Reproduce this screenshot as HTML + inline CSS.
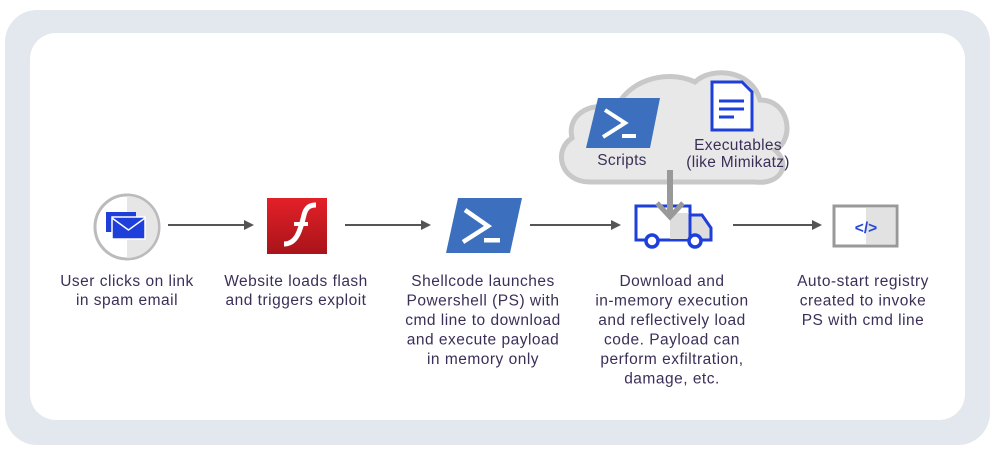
<!DOCTYPE html>
<html><head><meta charset="utf-8"><style>
html,body{margin:0;padding:0;background:#fff;}
svg{display:block;}
text{font-family:"Liberation Sans",sans-serif;font-size:15.5px;letter-spacing:0.5px;fill:#3b2f58;}
</style></head><body>
<svg width="995" height="453" viewBox="0 0 995 453">
<rect x="5" y="10" width="985" height="435" rx="32" fill="#e3e7ee"/>
<rect x="30" y="33" width="935" height="387" rx="26" fill="#fff"/>
<!-- cloud -->
<g fill="#e8e8e8" stroke="#c8c8c8" stroke-width="5">
<path d="M590,182 C560,182 553,150 572,138 C566,112 596,100 616,110 C625,82 665,68 695,82 C712,66 752,70 760,100 C790,100 795,140 775,150 C792,165 780,185 755,182 Z"/>
</g>
<!-- scripts PS icon -->
<path d="M598,98 L660,98 L650,148 L586,148 Z" fill="#3c6fbd"/>
<path d="M605,110 L625,123 L603,137" fill="none" stroke="#fff" stroke-width="4"/>
<rect x="622" y="134" width="14" height="4" fill="#fff"/>
<text x="622" y="165" text-anchor="middle" font-size="14" style="letter-spacing:0.3px">Scripts</text>
<!-- document -->
<path d="M712,82 L742,82 L752,92 L752,130 L712,130 Z" fill="#fff" stroke="#1e3fd9" stroke-width="3"/>
<path d="M719,101h25M719,109h25M719,117h15" stroke="#1e3fd9" stroke-width="3"/>
<text x="738" y="150" text-anchor="middle" font-size="14" style="letter-spacing:0.3px">Executables</text>
<text x="738" y="167" text-anchor="middle" font-size="14" style="letter-spacing:0.3px">(like Mimikatz)</text>
<!-- arrows -->
<g stroke="#555" stroke-width="2" fill="#555">
<line x1="168" y1="225" x2="245" y2="225"/><path d="M244,220 L254,225 L244,230Z" stroke="none"/>
<line x1="345" y1="225" x2="422" y2="225"/><path d="M421,220 L431,225 L421,230Z" stroke="none"/>
<line x1="530" y1="225" x2="612" y2="225"/><path d="M611,220 L621,225 L611,230Z" stroke="none"/>
<line x1="733" y1="225" x2="813" y2="225"/><path d="M812,220 L822,225 L812,230Z" stroke="none"/>
</g>
<!-- email -->
<circle cx="127" cy="227" r="32" fill="#fff" stroke="#bbb" stroke-width="3"/>
<path d="M127,196 A31,31 0 0 1 127,258 Z" fill="#e6e6e6"/>
<rect x="106" y="212" width="30" height="20" fill="#1e3fd9"/>
<rect x="112" y="217" width="33" height="22" fill="#1e3fd9" stroke="#fff" stroke-width="1.5"/>
<path d="M112,218 L128.5,230 L145,218" fill="none" stroke="#fff" stroke-width="1.5"/>
<!-- flash -->
<defs><linearGradient id="fg" x1="0" y1="0" x2="0" y2="1"><stop offset="0" stop-color="#e42028"/><stop offset="1" stop-color="#a8141a"/></linearGradient></defs>
<rect x="267" y="198" width="60" height="56" fill="url(#fg)"/>
<path d="M284,244 C296,244 300,232 304,215 C306,207 310,205 316,205" fill="none" stroke="#fff" stroke-width="5"/>
<path d="M294,224 H308" stroke="#fff" stroke-width="4"/>
<!-- PS main -->
<path d="M458,198 L522,198 L510,253 L446,253 Z" fill="#3c6fbd"/>
<path d="M465,210 L488,226 L463,242" fill="none" stroke="#fff" stroke-width="4.5"/>
<rect x="484" y="238" width="16" height="4.5" fill="#fff"/>
<!-- truck -->
<path d="M636,206 H690 V240 H636 Z" fill="#fff" stroke="#1e3fd9" stroke-width="3"/>
<rect x="670" y="213" width="19" height="26" fill="#ddd"/>
<path d="M690,215 H702 L711,228 V240 H690 Z" fill="#ddd" stroke="#1e3fd9" stroke-width="3"/>
<circle cx="652" cy="241" r="6" fill="#fff" stroke="#1e3fd9" stroke-width="3.5"/>
<circle cx="695" cy="241" r="6" fill="#fff" stroke="#1e3fd9" stroke-width="3.5"/>
<!-- down arrow (over truck) -->
<path d="M670,170 V216" stroke="#999" stroke-width="6"/>
<path d="M657,203 L670,217 L683,203" fill="none" stroke="#999" stroke-width="5"/>
<!-- code box -->
<rect x="834" y="206" width="63" height="40" fill="#fff" stroke="#999" stroke-width="3"/>
<rect x="866" y="208" width="29" height="36" fill="#e2e2e2"/>
<text x="866" y="233" text-anchor="middle" font-size="17" font-weight="bold" style="fill:#2748d8;letter-spacing:0">&lt;/&gt;</text>
<!-- labels -->
<g text-anchor="middle">
<text x="127" y="286">User clicks on link</text>
<text x="127" y="305">in spam email</text>
<text x="296" y="286">Website loads flash</text>
<text x="296" y="305">and triggers exploit</text>
<text x="483" y="286">Shellcode launches</text>
<text x="483" y="305.5">Powershell (PS) with</text>
<text x="483" y="325">cmd line to download</text>
<text x="483" y="344.5">and execute payload</text>
<text x="483" y="364">in memory only</text>
<text x="672" y="286">Download and</text>
<text x="672" y="305.5">in-memory execution</text>
<text x="672" y="325">and reflectively load</text>
<text x="672" y="344.5">code. Payload can</text>
<text x="672" y="364">perform exfiltration,</text>
<text x="672" y="383.5">damage, etc.</text>
<text x="863" y="286">Auto-start registry</text>
<text x="863" y="305.5">created to invoke</text>
<text x="863" y="325">PS with cmd line</text>
</g>
</svg>
</body></html>
